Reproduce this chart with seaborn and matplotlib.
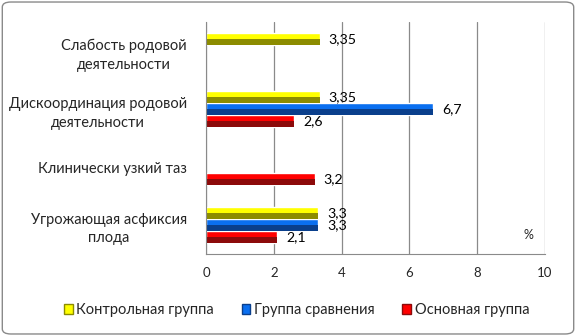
import matplotlib
matplotlib.use("Agg")
import matplotlib.pyplot as plt
from matplotlib.patches import Rectangle, FancyBboxPatch, Patch
import seaborn as sns
import pandas as pd

# данные
categories = ["Слабость родовой\nдеятельности",
              "Дискоординация родовой\nдеятельности",
              "Клинически узкий таз",
              "Угрожающая асфиксия\nплода"]
groups = ["Контрольная группа", "Группа сравнения", "Основная группа"]
control = [3.35, 3.35, None, 3.3]
comparison = [None, 6.7, None, 3.3]
main = [None, 2.6, 3.2, 2.1]

colors = ["#FFFF00", "#0A6FF0", "#FF0000"]
dark = ["#8C8C00", "#0A3F8C", "#8C0A0A"]

rows = []
for g, vals in zip(groups, [control, comparison, main]):
    for c, v in zip(categories, vals):
        if v is not None:
            rows.append({"cat": c, "grp": g, "val": v})
df = pd.DataFrame(rows)

sns.set_style("white")
plt.rcParams["font.family"] = ["Lato", "DejaVu Sans"]

fig = plt.figure(figsize=(5.76, 3.36), dpi=100)
ax = fig.add_axes([0.358, 0.244, 0.588, 0.690])

sns.barplot(data=df, y="cat", x="val", hue="grp", order=categories,
            hue_order=groups, palette=colors, orient="h", width=0.62,
            errorbar=None, ax=ax, legend=False, saturation=1)

# bevel: darker lower half + value labels
for i, cont in enumerate(ax.containers):
    for p in cont.patches:
        w = p.get_width()
        if pd.isna(w) or w == 0:
            continue
        x0, y0, h = p.get_x(), p.get_y(), p.get_height()
        ax.add_patch(Rectangle((x0, y0 + h / 2), w, h / 2, facecolor=dark[i],
                               edgecolor="none", zorder=p.get_zorder() + 0.1))
        ax.text(w + 0.27, y0 + h / 2, f"{w:g}".replace(".", ","),
                va="center", ha="left", fontsize=10.2, color="black")

ax.set_xlim(0, 10)
ax.set_xticks([0, 2, 4, 6, 8, 10])
ax.set_ylim(3.5, -0.5)
ax.set_yticks([-0.5, 0.5, 1.5, 2.5, 3.5], minor=True)
ax.set_xlabel("")
ax.set_ylabel("")
ax.grid(axis="x", color="#8a8a8a", linewidth=0.9)
ax.set_axisbelow(True)
for s in ["top", "right"]:
    ax.spines[s].set_visible(False)
for s in ["left", "bottom"]:
    ax.spines[s].set_color("#8a8a8a")
ax.tick_params(axis="x", labelsize=9.5, length=4, color="#8a8a8a", direction="out", pad=5)
ax.tick_params(axis="y", which="major", labelsize=10.5, length=0, pad=14)
ax.tick_params(axis="y", which="minor", length=5, color="#8a8a8a", direction="out")
for t in ax.get_yticklabels():
    t.set_multialignment("center")
    t.set_linespacing(1.45)

ax.text(9.5, 3.17, "%", fontsize=9, ha="center", va="center")

handles = [Patch(facecolor=c, edgecolor=d) for c, d in zip(colors, dark)]
fig.legend(handles, groups, loc="center", bbox_to_anchor=(0.515, 0.077), ncol=3,
           frameon=False, fontsize=10.5, handlelength=0.6, handleheight=0.6,
           handletextpad=0.25, columnspacing=1.9)

fig.patches.append(FancyBboxPatch((0.004, 0.006), 0.992, 0.988,
                                  boxstyle="round,pad=0,rounding_size=0.015",
                                  transform=fig.transFigure, fill=False,
                                  edgecolor="#8a8a8a", linewidth=1))

fig.savefig("out.png", dpi=100)
